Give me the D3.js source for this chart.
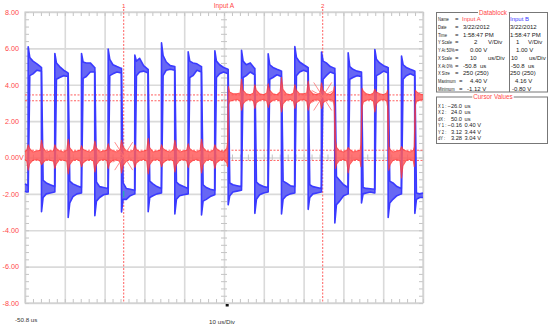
<!DOCTYPE html>
<html><head><meta charset="utf-8">
<script src="https://cdn.jsdelivr.net/npm/d3@7"></script>
<style>
html,body{margin:0;padding:0;background:#fff;}
svg{display:block;font-family:"Liberation Sans",Arial,sans-serif;}
</style></head><body>
<svg id="chart" width="550" height="326"></svg>
<script>
// ---- Input B (blue) envelope: time (us), lower and upper bound in screen units (2 per division)
const timeB = [-50.8,-50.4,-50.05,
 -50.0,-49.6,-48.8,-47.8,-46.7,-46.65,-46.25,-45.45,-44.45,-43.35,
 -43.3,-42.9,-42.1,-41.1,-40.0,-39.95,-39.55,-38.75,-37.75,-36.65,
 -36.6,-36.2,-35.4,-34.4,-33.3,-33.25,-32.85,-32.05,-31.05,-29.95,
 -29.9,-29.5,-28.7,-27.7,-26.6,-26.55,-26.15,-25.35,-24.35,-23.25,
 -23.2,-22.8,-22.0,-21.0,-19.9,-19.85,-19.45,-18.65,-17.65,-16.55,
 -16.5,-16.1,-15.3,-14.3,-13.2,-13.15,-12.75,-11.95,-10.95,-9.85,
 -9.8,-9.4,-8.6,-7.6,-6.5,-6.45,-6.05,-5.25,-4.25,-3.15,
 -3.1,-2.7,-1.9,-0.9,0.2,0.25,0.65,1.45,2.45,3.55,
 3.6,4.0,4.8,5.8,6.9,6.95,7.35,8.15,9.15,10.25,
 10.3,10.7,11.5,12.5,13.6,13.65,14.05,14.85,15.85,16.95,
 17.0,17.4,18.2,19.2,20.3,20.35,20.75,21.55,22.55,23.65,
 23.7,24.1,24.9,25.9,27.0,27.05,27.45,28.25,29.25,30.35,
 30.4,30.8,31.6,32.6,33.7,33.75,34.15,34.95,35.95,37.05,
 37.1,37.5,38.3,39.3,40.4,40.45,40.85,41.65,42.65,43.75,
 43.8,44.2,45.0,46.0,47.1,47.15,47.55,48.35,49.2];
const lowB = [-1.85,-1.9,-1.9,
 -1.9,4.5,4.6,4.8,4.75,-2.98,-2.2,-2.0,-1.95,-1.9,
 -1.9,4.3,4.4,4.5,4.45,-3.3,-2.5,-2.15,-2.0,-1.95,
 -1.95,4.35,4.45,4.7,4.7,-3.2,-2.4,-2.2,-2.05,-2.0,
 -2.0,4.5,4.6,4.7,4.65,-3.0,-2.3,-2.3,-2.1,-2.0,
 -2.0,4.5,4.7,4.75,4.65,-2.98,-2.2,-2.1,-2.0,-1.95,
 -1.95,4.5,4.8,4.85,4.8,-3.1,-2.3,-2.1,-2.05,-2.0,
 -2.0,4.4,4.5,4.8,4.7,-3.16,-2.4,-2.3,-2.15,-2.05,
 -2.05,4.4,4.6,4.7,4.6,-2.6,-2.1,-1.9,-1.85,-1.8,
 -1.8,4.4,4.5,4.7,4.55,-3.07,-2.3,-2.05,-1.95,-1.9,
 -1.9,4.3,4.4,4.55,4.45,-3.1,-2.3,-2.1,-2.0,-1.95,
 -1.95,4.5,4.7,4.8,4.7,-2.85,-2.2,-2.0,-1.95,-1.9,
 -1.9,4.3,4.5,4.7,4.6,-3.6,-2.6,-2.4,-2.1,-2.0,
 -2.0,4.3,4.4,4.5,4.45,-2.5,-2.0,-1.95,-1.9,-1.95,
 -1.95,4.5,4.6,4.75,4.65,-3.3,-2.5,-2.3,-2.1,-2.0,
 -2.0,4.3,4.5,4.6,4.5,-3.07,-2.3,-2.2,-2.2];
const highB = [-1.45,-1.5,-1.55,
 6.09,5.5,5.3,5.15,4.95,4.95,-1.25,-1.4,-1.5,-1.6,
 5.72,5.2,5.0,4.8,4.65,4.65,-1.3,-1.45,-1.55,-1.65,
 5.72,5.25,5.2,5.2,4.95,4.95,-1.35,-1.6,-1.65,-1.7,
 5.96,5.4,5.1,5.0,4.9,4.9,-1.4,-1.7,-1.75,-1.8,
 5.63,5.3,5.45,5.05,4.85,4.85,-1.3,-1.45,-1.6,-1.7,
 6.3,5.6,5.25,5.05,5.0,5.0,-1.35,-1.5,-1.6,-1.7,
 5.81,5.3,5.2,5.15,5.0,5.0,-1.5,-1.65,-1.75,-1.8,
 5.87,5.3,5.1,4.95,4.85,4.85,-1.4,-1.5,-1.55,-1.6,
 5.9,5.3,5.1,5.2,4.9,4.9,-1.35,-1.5,-1.6,-1.65,
 5.7,5.1,4.95,4.85,4.75,4.75,-1.3,-1.4,-1.55,-1.6,
 6.1,5.5,5.25,5.1,4.95,4.95,-1.5,-1.6,-1.65,-1.7,
 5.8,5.3,5.2,5.0,4.9,4.9,-1.05,-1.25,-1.5,-1.65,
 5.76,5.0,4.85,4.75,4.7,4.7,-1.65,-1.7,-1.72,-1.75,
 5.94,5.4,5.2,5.05,4.95,4.95,-1.3,-1.4,-1.6,-1.7,
 5.58,5.1,4.95,4.85,4.75,4.75,-1.95,-2.0,-1.95];

// ---- Input A (red) envelope, same units
const timeA = [-50.8,-50.35,-50.0,-49.65,-48.8,-47.8,-47.0,-46.65,-46.3,-45.45,-44.45,
 -43.65,-43.3,-42.95,-42.1,-41.1,-40.3,-39.95,-39.6,-38.75,-37.75,
 -36.95,-36.6,-36.25,-35.4,-34.4,-33.6,-33.25,-32.9,-32.05,-31.05,
 -30.25,-29.9,-29.55,-28.7,-27.7,-26.9,-26.55,-26.2,-25.35,-24.35,
 -23.55,-23.2,-22.85,-22.0,-21.0,-20.2,-19.85,-19.5,-18.65,-17.65,
 -16.85,-16.5,-16.15,-15.3,-14.3,-13.5,-13.15,-12.8,-11.95,-10.95,
 -10.15,-9.8,-9.45,-8.6,-7.6,-6.8,-6.45,-6.1,-5.25,-4.25,
 -3.45,-3.1,-2.75,-1.9,-0.9,-0.1,0.1,0.3,0.6,1.45,2.45,
 3.25,3.6,3.95,4.8,5.8,6.6,6.95,7.3,8.15,9.15,
 9.95,10.3,10.65,11.5,12.5,13.3,13.65,14.0,14.85,15.85,
 16.65,17.0,17.35,18.2,19.2,20.0,20.35,20.7,21.55,22.55,
 23.35,23.7,24.05,24.9,25.9,26.7,26.9,27.2,27.5,28.25,29.25,
 30.05,30.4,30.75,31.6,32.6,33.4,33.6,33.9,34.2,34.95,35.95,
 36.75,37.1,37.45,38.3,39.3,40.1,40.3,40.6,40.9,41.65,42.65,
 43.45,43.8,44.15,45.0,46.0,46.8,47.0,47.3,47.6,48.35,49.2];
const lowA = [-0.1,-0.2,-0.7,-0.35,-0.15,-0.1,-0.2,-0.4,-0.3,-0.1,-0.15,
 -0.2,-0.6,-0.35,-0.1,-0.15,-0.2,-0.9,-0.4,-0.15,-0.1,
 -0.2,-0.5,-0.3,-0.15,-0.1,-0.2,-0.8,-0.4,-0.15,-0.1,
 -0.15,-0.6,-0.3,-0.15,-0.1,-0.25,-0.85,-0.45,-0.2,-0.1,
 -0.2,-0.55,-0.3,-0.15,-0.1,-0.2,-0.9,-0.4,-0.15,-0.1,
 -0.2,-0.5,-0.3,-0.15,-0.1,-0.2,-0.8,-0.4,-0.15,-0.1,
 -0.2,-0.55,-0.3,-0.15,-0.1,-0.2,-0.85,-0.4,-0.15,-0.1,
 -0.2,-0.6,-0.3,-0.15,-0.1,-0.3,-0.5,2.9,3.1,3.15,3.2,
 3.1,2.6,2.95,3.15,3.2,3.1,2.7,3.0,3.15,3.2,
 3.1,2.75,3.0,3.15,3.2,3.1,2.5,2.95,3.15,3.2,
 3.1,2.7,3.0,3.15,3.2,3.1,2.6,2.95,3.15,3.2,
 3.1,2.7,3.0,3.15,3.2,3.1,2.8,-0.6,-0.35,-0.15,-0.1,
 -0.2,-0.85,-0.4,-0.15,-0.1,-0.2,-0.5,2.8,3.05,3.15,3.2,
 3.1,2.5,2.95,3.15,3.2,3.1,2.8,-0.7,-0.4,-0.15,-0.1,
 -0.2,-1.12,-0.45,-0.15,-0.1,-0.2,-0.5,2.9,3.1,3.15,3.2];
const highA = [0.3,0.4,0.7,0.5,0.3,0.35,0.4,0.95,0.55,0.3,0.35,
 0.35,0.7,0.5,0.35,0.3,0.4,1.0,0.55,0.3,0.35,
 0.4,0.65,0.45,0.35,0.3,0.45,0.9,0.55,0.3,0.35,
 0.4,0.75,0.5,0.35,0.3,0.45,0.95,0.6,0.35,0.3,
 0.4,0.7,0.45,0.3,0.35,0.4,1.05,0.55,0.3,0.35,
 0.4,0.7,0.5,0.35,0.3,0.45,0.95,0.55,0.3,0.35,
 0.4,0.75,0.5,0.35,0.3,0.4,1.0,0.55,0.35,0.3,
 0.4,0.7,0.5,0.35,0.3,0.5,0.8,3.9,3.6,3.5,3.5,
 3.55,4.3,3.7,3.5,3.45,3.55,4.0,3.7,3.5,3.45,
 3.55,4.05,3.7,3.5,3.45,3.6,4.4,3.75,3.5,3.45,
 3.55,4.0,3.7,3.5,3.5,3.55,4.2,3.7,3.5,3.45,
 3.55,4.1,3.7,3.5,3.45,3.6,3.9,0.9,0.55,0.35,0.3,
 0.4,0.55,0.45,0.3,0.35,0.4,0.7,3.8,3.65,3.5,3.45,
 3.55,3.75,3.6,3.5,3.45,3.55,3.7,0.6,0.45,0.3,0.35,
 0.4,0.6,0.45,0.35,0.3,0.4,0.6,3.7,3.6,3.5,3.45];

// ---- axes, cursors
const yTicks = [8, 6, 4, 2, 0, -2, -4, -6, -8];
const yTickLabels = ["8.00", "6.00", "4.00", "2.00", "0.00", "-2.00", "-4.00", "-6.00", "-8.00"];
const xStart = -50.8, xEnd = 49.2, xDiv = 10;
const cursorX = [-26.0, 24.0];
const cursorYA = [-0.16, 3.12];
const cursorYB = [0.40, 3.44];

// ---- data block
const blockLabels = ["Name", "Date", "Time", "Y Scale", "Y At 50%", "X Scale", "X At 0%", "X Size", "Maximum", "Minimum"];
const blockA = [["Input A"], ["3/22/2012"], ["1:58:47 PM"], ["2", "V/Div"], ["0.00 V"], ["10", "us/Div"], ["-50.8  us"], ["250 (250)"], ["4.40 V"], ["-1.12 V"]];
const blockB = [["Input B"], ["3/22/2012"], ["1:58:47 PM"], ["1", "V/Div"], ["1.00 V"], ["10", "us/Div"], ["-50.8  us"], ["250 (250)"], ["4.16 V"], ["-0.80 V"]];

const RED = "#ff4848", BLUE = "#3a3aff";
const svg = d3.select("#chart");
const x = d3.scaleLinear().domain([xStart, xEnd]).range([25, 423]);
const y = d3.scaleLinear().domain([-8, 8]).range([303, 12]);
const pTop = y(8), pBot = y(-8), pLeft = x(xStart), pRight = x(xEnd);

// major grid
const xMajor = d3.range(0, 11).map(i => xStart + i * xDiv);
const grid = svg.append("g").attr("class", "grid");
grid.append("g").attr("transform", `translate(0,${pBot})`)
  .call(d3.axisBottom(x).tickValues(xMajor).tickSize(-(pBot - pTop)).tickFormat(""));
grid.append("g").attr("transform", `translate(${pLeft},0)`)
  .call(d3.axisLeft(y).tickValues(yTicks).tickSize(-(pRight - pLeft)).tickFormat(""));
grid.selectAll(".domain").remove();
grid.selectAll("line").attr("stroke", "#dadada").attr("stroke-width", 1.6);

// minor ticks on the frame and centre axes
const xMinor = d3.range(0, 51).map(i => xStart + i * 2);
const yMinor = d3.range(0, 41).map(i => -8 + i * 0.4);
const xc = x(xStart + 5 * xDiv), yc = y(0);
const minor = svg.append("g").attr("class", "minor");
minor.append("g").attr("transform", `translate(0,${pTop})`).call(d3.axisTop(x).tickValues(xMinor).tickSize(-4).tickFormat(""));
minor.append("g").attr("transform", `translate(0,${pBot})`).call(d3.axisBottom(x).tickValues(xMinor).tickSize(-4).tickFormat(""));
minor.append("g").attr("transform", `translate(${pLeft},0)`).call(d3.axisLeft(y).tickValues(yMinor).tickSize(-4).tickFormat(""));
minor.append("g").attr("transform", `translate(${pRight},0)`).call(d3.axisRight(y).tickValues(yMinor).tickSize(-4).tickFormat(""));
minor.append("g").attr("transform", `translate(${xc + 3},0)`).call(d3.axisLeft(y).tickValues(yMinor).tickSize(6).tickFormat(""));
minor.append("g").attr("transform", `translate(0,${yc - 3})`).call(d3.axisBottom(x).tickValues(xMinor).tickSize(6).tickFormat(""));
minor.selectAll(".domain").remove();
minor.selectAll("line").attr("stroke", "#c4c4c4").attr("stroke-width", 1);

// frame
svg.append("rect").attr("x", pLeft).attr("y", pTop).attr("width", pRight - pLeft).attr("height", pBot - pTop)
  .attr("fill", "none").attr("stroke", "#cfcfcf").attr("stroke-width", 1.2);

// y labels
const yAxis = svg.append("g").attr("transform", `translate(${pLeft - 6},0)`)
  .call(d3.axisLeft(y).tickValues(yTicks).tickSize(0).tickPadding(0)
    .tickFormat((d, i) => yTickLabels[i]));
yAxis.select(".domain").remove();
yAxis.selectAll("text").attr("fill", RED).attr("font-size", 7.2)
  .attr("font-family", "Liberation Sans, Arial, sans-serif");
yAxis.selectAll(".tick").filter(d => d === 0).append("text")
  .attr("x", 0).attr("dy", "0.32em").attr("fill", RED).attr("font-size", 7.2)
  .attr("font-family", "Liberation Sans, Arial, sans-serif")
  .attr("text-anchor", "start").text("V");

// cursors
const cur = svg.append("g").attr("stroke", "#ff6060").attr("stroke-width", 1).attr("stroke-dasharray", "2,1.5");
cur.selectAll("line.v").data(cursorX).join("line").attr("class", "v")
  .attr("x1", d => x(d)).attr("x2", d => x(d)).attr("y1", 9).attr("y2", pBot);
cur.selectAll("line.h").data(cursorYA.concat(cursorYB)).join("line").attr("class", "h")
  .attr("x1", pLeft).attr("x2", pRight).attr("y1", d => y(d)).attr("y2", d => y(d));

// traces
function band(ts, lo, hi) {
  const pts = ts.map((t, i) => [t, lo[i], hi[i]]);
  return d3.area().x(d => x(d[0])).y0(d => y(d[1])).y1(d => y(d[2]))(pts);
}
function edge(ts, v) {
  return d3.line().x(d => x(d[0])).y(d => y(d[1]))(ts.map((t, i) => [t, v[i]]));
}
const tb = svg.append("g");
tb.append("path").attr("d", band(timeB, lowB, highB)).attr("fill", "#6767f4");
[highB, lowB].forEach(v => tb.append("path").attr("d", edge(timeB, v))
  .attr("fill", "none").attr("stroke", BLUE).attr("stroke-width", 1.6).attr("stroke-linejoin", "round"));

const ta = svg.append("g").attr("opacity", 0.85);
ta.append("path").attr("d", band(timeA, lowA, highA)).attr("fill", "#ff5c5c");
[highA, lowA].forEach(v => ta.append("path").attr("d", edge(timeA, v))
  .attr("fill", "none").attr("stroke", "#ff3c3c").attr("stroke-width", 1.1).attr("stroke-linejoin", "round"));

// cursor markers where the cursors meet the red trace
const midA = t => {
  const i = d3.bisectLeft(timeA, t);
  const f = (t - timeA[i - 1]) / (timeA[i] - timeA[i - 1]);
  const m = j => (lowA[j] + highA[j]) / 2;
  return m(i - 1) + f * (m(i) - m(i - 1));
};
cursorX.forEach(c => {
  const cx = x(c), cy = y(midA(c));
  const star = svg.append("g").attr("stroke", "#ff7070").attr("stroke-width", 0.8);
  [[9, 14], [9, -14], [11, 6], [11, -6]].forEach(([dx, dy]) =>
    star.append("line").attr("x1", cx - dx).attr("y1", cy - dy).attr("x2", cx + dx).attr("y2", cy + dy));
});
{
  const i = d3.bisectLeft(timeB, cursorX[0]);
  const by = y((lowB[i] + highB[i]) / 2);
  svg.append("line").attr("x1", x(cursorX[0])).attr("x2", x(cursorX[0]))
    .attr("y1", by - 3).attr("y2", by + 3).attr("stroke", "#20b0b0").attr("stroke-width", 1.2);
}

// titles and cursor numbers
svg.append("text").attr("x", xc).attr("y", 8).attr("text-anchor", "middle")
  .attr("font-size", 6.6).attr("fill", RED).text("Input A");
cursorX.forEach((c, i) => svg.append("text").attr("x", x(c)).attr("y", 8)
  .attr("text-anchor", "middle").attr("font-size", 6.2).attr("fill", RED).text(i + 1));

// x labels
svg.append("text").attr("x", 15).attr("y", 322).attr("font-size", 6.2).attr("fill", "#333").text("-50.8 us");
svg.append("text").attr("x", 222).attr("y", 324).attr("text-anchor", "middle").attr("font-size", 6.2).attr("fill", "#333").text("10 us/Div");
svg.append("rect").attr("x", x(0) - 1.5).attr("y", pBot + 1).attr("width", 3).attr("height", 2.5).attr("fill", "#111");

// ---- data block panel
const panel = svg.append("g").attr("font-size", 6).attr("fill", "#222");
function box(y0, y1, title) {
  panel.append("rect").attr("x", 436.5).attr("y", y0).attr("width", 111).attr("height", y1 - y0)
    .attr("fill", "none").attr("stroke", "#777").attr("stroke-width", 1);
  const t = panel.append("text").attr("x", 493).attr("y", y0 + 2.2).attr("text-anchor", "middle")
    .attr("font-size", 6.3).attr("fill", RED).text(title);
  const bb = t.node().getBBox();
  panel.insert("rect", () => t.node()).attr("x", bb.x - 1).attr("y", bb.y).attr("width", bb.width + 2)
    .attr("height", bb.height).attr("fill", "#fff");
}
box(12.5, 92, "Datablock");
panel.append("line").attr("x1", 509.5).attr("x2", 509.5).attr("y1", 12.5).attr("y2", 92).attr("stroke", "#777");

const rowY = i => 21.3 + i * 7.7;
const valAx = [462, 463, 463, [474, 488], 470, [470, 488], 463, 463, 470, 467];
const valBx = [510, 510, 510, [516, 528], 516, [511, 529], 511, 510, 515, 512];
blockLabels.forEach((lab, i) => {
  panel.append("text").attr("transform", `translate(438,${rowY(i)}) scale(0.68,1)`).text(lab);
  panel.append("text").attr("x", i >= 8 ? 459 : 455).attr("y", rowY(i)).text("=");
  const ax = [].concat(valAx[i]), bx = [].concat(valBx[i]);
  blockA[i].forEach((s, j) => panel.append("text").attr("x", ax[j]).attr("y", rowY(i))
    .attr("fill", i === 0 ? RED : "#222").style("white-space", "pre").text(s));
  blockB[i].forEach((s, j) => panel.append("text").attr("x", bx[j]).attr("y", rowY(i))
    .attr("fill", i === 0 ? "#3a3aff" : "#222").style("white-space", "pre").text(s));
});

// ---- cursor values panel
box(97, 143.5, "Cursor Values");
const cRowY = i => 107.6 + i * 6.5;
const fmt = d3.format(".1f"), fmt2 = d3.format(".2f");
const cRows = [
  ["X 1 :", fmt(cursorX[0]), "us"],
  ["X 2 :", fmt(cursorX[1]), "us"],
  ["dX :", fmt(cursorX[1] - cursorX[0]), "us"],
  ["Y 1 :", fmt2(cursorYA[0]), fmt2(cursorYB[0]) + " V"],
  ["Y 2 :", fmt2(cursorYA[1]), fmt2(cursorYB[1]) + " V"],
  ["dY :", fmt2(cursorYA[1] - cursorYA[0]), fmt2(cursorYB[1] - cursorYB[0]) + " V"]
];
cRows.forEach((r, i) => {
  panel.append("text").attr("transform", `translate(438,${cRowY(i)}) scale(0.68,1)`).text(r[0]);
  panel.append("text").attr("x", 462).attr("y", cRowY(i)).attr("text-anchor", "end")
    .attr("font-size", 5.7).text(r[1]);
  panel.append("text").attr("x", 464.5).attr("y", cRowY(i)).attr("font-size", 5.7).text(r[2]);
});
</script>
</body></html>
